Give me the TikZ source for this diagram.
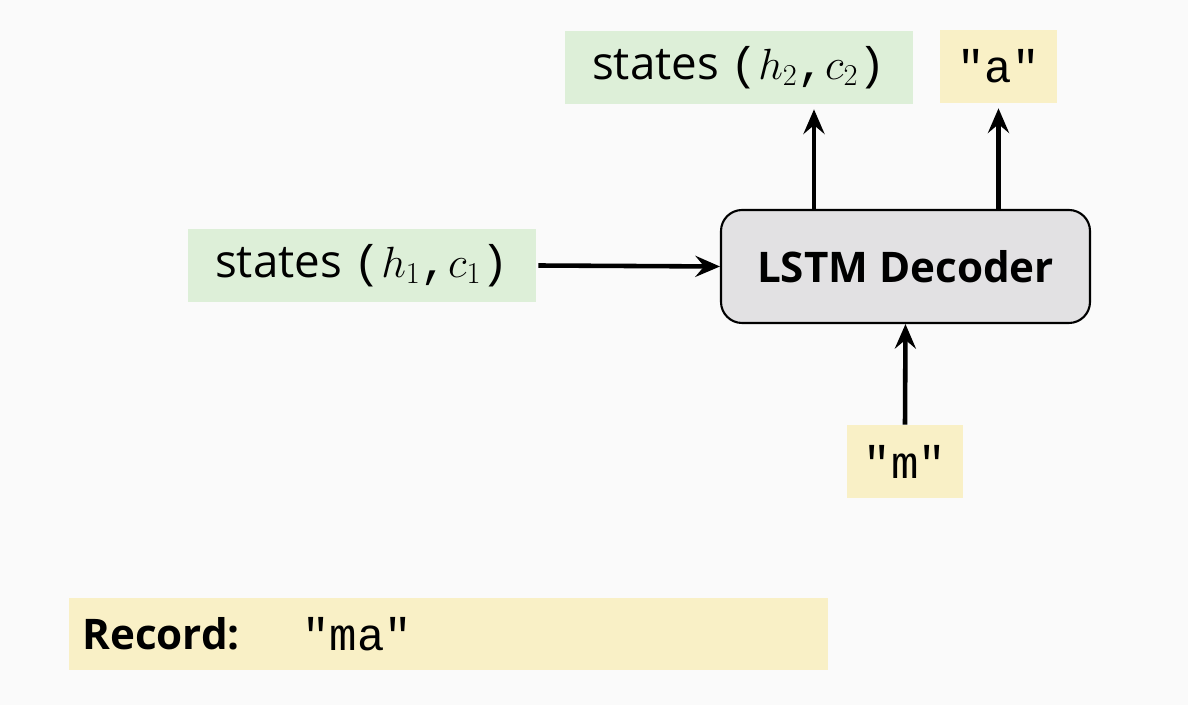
\documentclass[tikz,border=0pt]{standalone}
\usepackage{fontspec}
\usetikzlibrary{arrows.meta}
\setmainfont{Open Sans}
\newfontfamily\monof{Liberation Mono}
\definecolor{bgc}{HTML}{FAFAFA}
\definecolor{grn}{HTML}{DDEFD8}
\definecolor{ylw}{HTML}{F9F0C6}
\definecolor{lstm}{HTML}{E2E1E3}
\begin{document}
\begin{tikzpicture}[x=0.02cm,y=-0.02cm,
  lbl/.style={inner sep=0pt,font=\fontsize{24}{28}\selectfont},
  slbl/.style={inner sep=0pt,font=\fontsize{26}{30}\selectfont},
  arr/.style={-{Stealth[length=14pt,width=12pt,inset=5pt]},line width=2.6pt}]
\fill[bgc] (0,0) rectangle (1188,705);
\useasboundingbox (0,0) rectangle (1188,705);
\node[slbl,fill=grn,minimum width=348*0.02cm,minimum height=73*0.02cm] (s2) at (739,67.5) {states {\monof(}$h_2${\monof,}$c_2${\monof)}};
\node[slbl,fill=ylw,minimum width=117*0.02cm,minimum height=73*0.02cm] (a) at (998.5,66.5) {\monof"a"};
\node[lbl,draw,line width=1.2pt,fill=lstm,rounded corners=12pt,minimum width=369*0.02cm,minimum height=113*0.02cm,font=\fontsize{24}{28}\selectfont\bfseries] (L) at (905.5,266.5) {LSTM Decoder};
\node[slbl,fill=grn,minimum width=348*0.02cm,minimum height=73*0.02cm] (s1) at (362,265.5) {states {\monof(}$h_1${\monof,}$c_1${\monof)}};
\node[slbl,fill=ylw,minimum width=116*0.02cm,minimum height=73*0.02cm] (m) at (905,461.5) {\monof"m"};
\node[fill=ylw,minimum width=759*0.02cm,minimum height=72*0.02cm,inner sep=0pt] (r) at (448.5,634) {};
\node[lbl,anchor=west,font=\fontsize{24}{28}\selectfont\bfseries] (rl) at (82,634) {Record:};
\node[slbl,anchor=west] (rv) at (302,634) {\monof"ma"};
\draw[arr] ([xshift=2*0.02cm]s1.east) -- (L.west);
\draw[arr] ([xshift=75*0.02cm]L.north -| s2.center) -- ([xshift=75*0.02cm,yshift=-5*0.02cm]s2.south);
\draw[arr] (L.north -| a.center) -- ([yshift=-5*0.02cm]a.south);
\draw[arr] (m.north) -- (L.south);
\end{tikzpicture}
\end{document}
